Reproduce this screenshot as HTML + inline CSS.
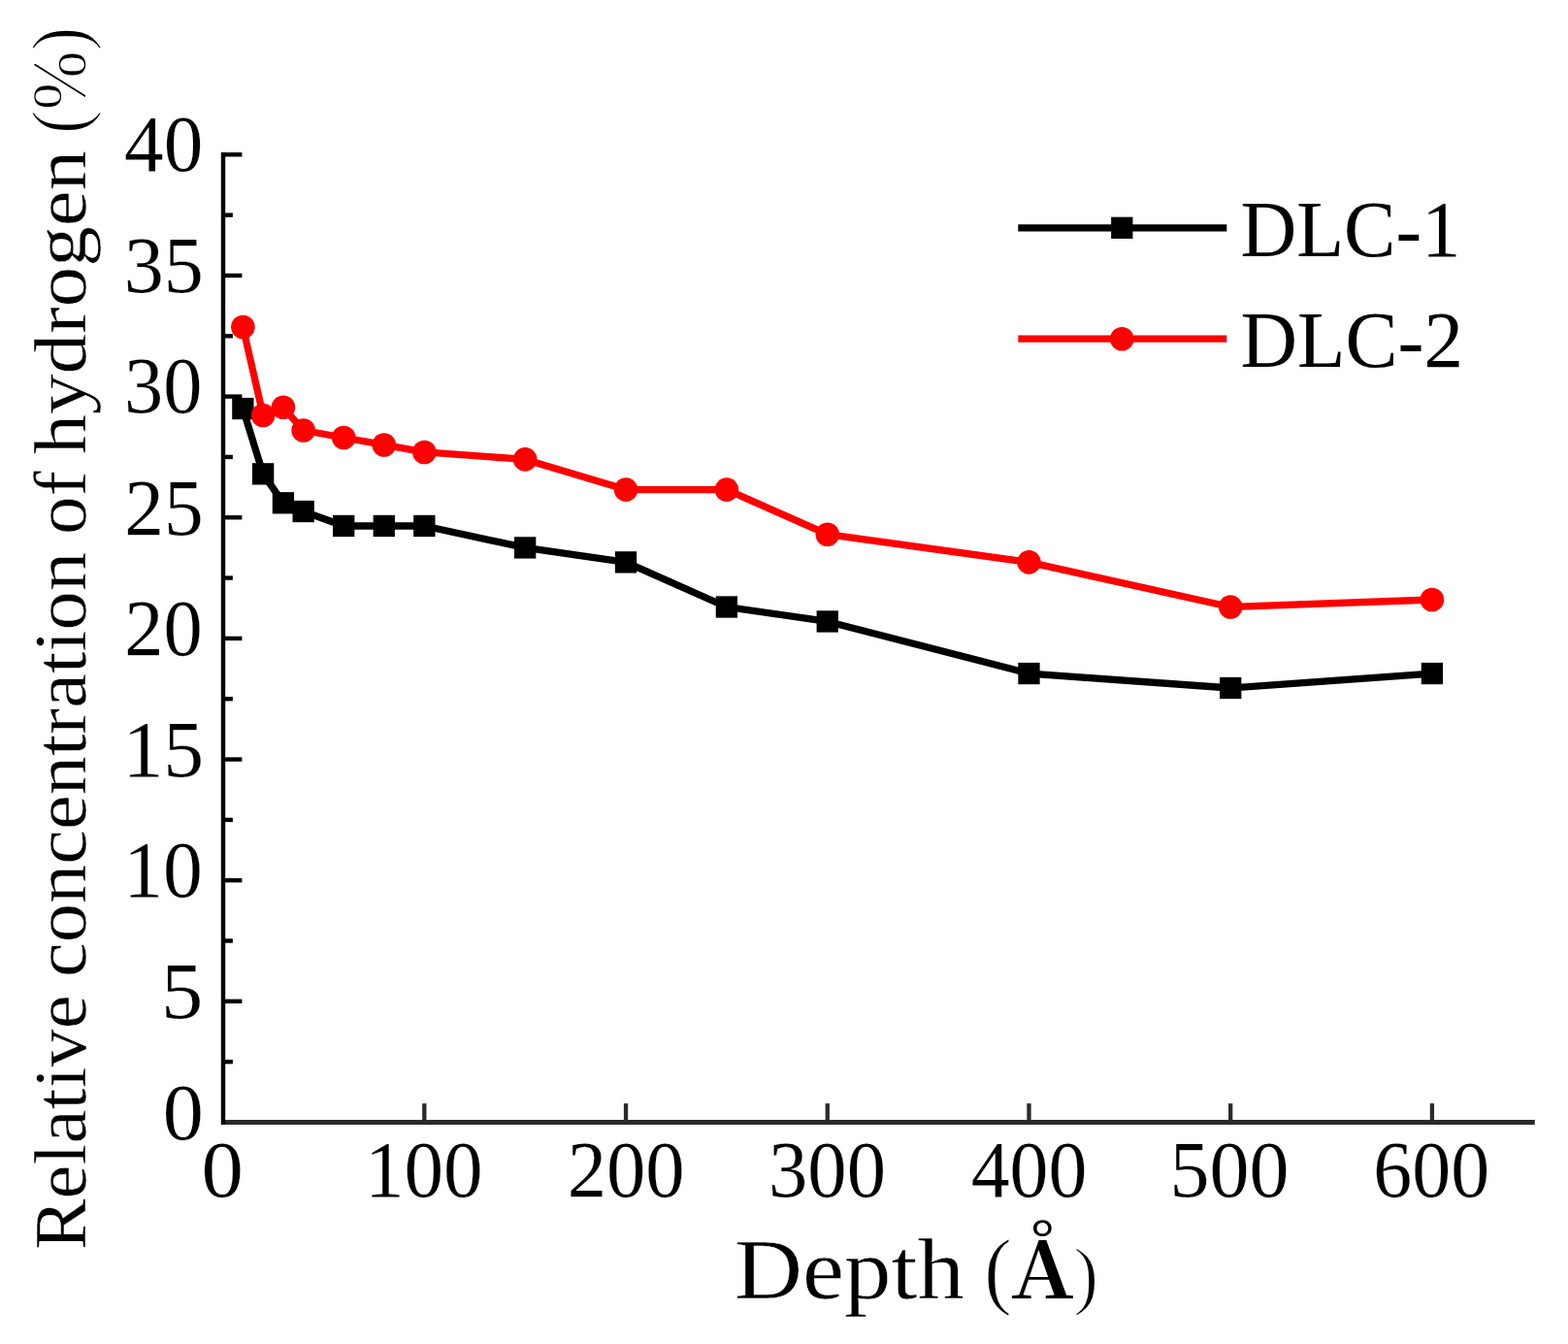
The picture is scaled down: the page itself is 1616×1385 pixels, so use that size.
<!DOCTYPE html>
<html lang="en"><head><meta charset="utf-8"><title>Relative concentration of hydrogen vs depth</title>
<style>
html,body{margin:0;padding:0;background:#fff;}
body{width:1616px;height:1385px;overflow:hidden;}
svg{display:block;}
text{font-family:"Liberation Serif",serif;fill:#000;}
</style></head><body>
<svg width="1616" height="1385" viewBox="0 0 1616 1385">
<rect width="1616" height="1385" fill="#fff"/>
<g stroke="#000" stroke-width="4.4" fill="none">
<line x1="230.00" y1="1156.50" x2="249.40" y2="1156.50"/>
<line x1="230.00" y1="1094.17" x2="239.90" y2="1094.17"/>
<line x1="230.00" y1="1031.85" x2="249.40" y2="1031.85"/>
<line x1="230.00" y1="969.52" x2="239.90" y2="969.52"/>
<line x1="230.00" y1="907.20" x2="249.40" y2="907.20"/>
<line x1="230.00" y1="844.88" x2="239.90" y2="844.88"/>
<line x1="230.00" y1="782.55" x2="249.40" y2="782.55"/>
<line x1="230.00" y1="720.23" x2="239.90" y2="720.23"/>
<line x1="230.00" y1="657.90" x2="249.40" y2="657.90"/>
<line x1="230.00" y1="595.58" x2="239.90" y2="595.58"/>
<line x1="230.00" y1="533.25" x2="249.40" y2="533.25"/>
<line x1="230.00" y1="470.92" x2="239.90" y2="470.92"/>
<line x1="230.00" y1="408.60" x2="249.40" y2="408.60"/>
<line x1="230.00" y1="346.27" x2="239.90" y2="346.27"/>
<line x1="230.00" y1="283.95" x2="249.40" y2="283.95"/>
<line x1="230.00" y1="221.62" x2="239.90" y2="221.62"/>
<line x1="230.00" y1="159.30" x2="249.40" y2="159.30"/>
<line x1="230.00" y1="156.90" x2="230.00" y2="1158.90"/>
</g>
<g stroke="#2a2a2a" stroke-width="4.8" fill="none">
<line x1="437.32" y1="1156.50" x2="437.32" y2="1137.10" stroke-width="4.3"/>
<line x1="645.04" y1="1156.50" x2="645.04" y2="1137.10" stroke-width="4.3"/>
<line x1="852.76" y1="1156.50" x2="852.76" y2="1137.10" stroke-width="4.3"/>
<line x1="1060.48" y1="1156.50" x2="1060.48" y2="1137.10" stroke-width="4.3"/>
<line x1="1268.20" y1="1156.50" x2="1268.20" y2="1137.10" stroke-width="4.3"/>
<line x1="1475.92" y1="1156.50" x2="1475.92" y2="1137.10" stroke-width="4.3"/>
<line x1="232.40" y1="1156.50" x2="1581.80" y2="1156.50"/>
</g>
<polyline points="250.37,421.07 271.14,488.38 291.92,518.29 312.69,527.02 354.23,541.98 395.78,541.98 437.32,541.98 541.18,564.41 645.04,579.37 748.90,625.49 852.76,640.45 1060.48,694.05 1268.20,709.01 1475.92,694.05" fill="none" stroke="#000" stroke-width="7.3" stroke-linejoin="round"/>
<rect x="239.22" y="409.92" width="22.3" height="22.3" fill="#000"/>
<rect x="259.99" y="477.23" width="22.3" height="22.3" fill="#000"/>
<rect x="280.77" y="507.14" width="22.3" height="22.3" fill="#000"/>
<rect x="301.54" y="515.87" width="22.3" height="22.3" fill="#000"/>
<rect x="343.08" y="530.83" width="22.3" height="22.3" fill="#000"/>
<rect x="384.63" y="530.83" width="22.3" height="22.3" fill="#000"/>
<rect x="426.17" y="530.83" width="22.3" height="22.3" fill="#000"/>
<rect x="530.03" y="553.26" width="22.3" height="22.3" fill="#000"/>
<rect x="633.89" y="568.22" width="22.3" height="22.3" fill="#000"/>
<rect x="737.75" y="614.34" width="22.3" height="22.3" fill="#000"/>
<rect x="841.61" y="629.30" width="22.3" height="22.3" fill="#000"/>
<rect x="1049.33" y="682.90" width="22.3" height="22.3" fill="#000"/>
<rect x="1257.05" y="697.86" width="22.3" height="22.3" fill="#000"/>
<rect x="1464.77" y="682.90" width="22.3" height="22.3" fill="#000"/>
<polyline points="250.37,337.05 271.14,428.05 291.92,419.82 312.69,443.50 354.23,450.98 395.78,458.46 437.32,465.94 541.18,473.42 645.04,504.58 748.90,504.58 852.76,550.70 1060.48,579.37 1268.20,625.49 1475.92,618.01" fill="none" stroke="#f00" stroke-width="7.3" stroke-linejoin="round"/>
<circle cx="250.37" cy="337.05" r="12.3" fill="#f00"/>
<circle cx="271.14" cy="428.05" r="12.3" fill="#f00"/>
<circle cx="291.92" cy="419.82" r="12.3" fill="#f00"/>
<circle cx="312.69" cy="443.50" r="12.3" fill="#f00"/>
<circle cx="354.23" cy="450.98" r="12.3" fill="#f00"/>
<circle cx="395.78" cy="458.46" r="12.3" fill="#f00"/>
<circle cx="437.32" cy="465.94" r="12.3" fill="#f00"/>
<circle cx="541.18" cy="473.42" r="12.3" fill="#f00"/>
<circle cx="645.04" cy="504.58" r="12.3" fill="#f00"/>
<circle cx="748.90" cy="504.58" r="12.3" fill="#f00"/>
<circle cx="852.76" cy="550.70" r="12.3" fill="#f00"/>
<circle cx="1060.48" cy="579.37" r="12.3" fill="#f00"/>
<circle cx="1268.20" cy="625.49" r="12.3" fill="#f00"/>
<circle cx="1475.92" cy="618.01" r="12.3" fill="#f00"/>
<line x1="1049.3" y1="234.80" x2="1264.3" y2="234.80" stroke="#000" stroke-width="7.3"/>
<rect x="1145.15" y="223.65" width="22.3" height="22.3" fill="#000"/>
<line x1="1049.3" y1="349.20" x2="1264.3" y2="349.20" stroke="#f00" stroke-width="7.3"/>
<circle cx="1156.30" cy="349.20" r="12.3" fill="#f00"/>
<text font-size="81.6" stroke="#fff" stroke-width="0.2" stroke-linejoin="round" y="1173.90" id="y0" x="167.70" textLength="42.03" lengthAdjust="spacingAndGlyphs">0</text>
<text font-size="81.6" stroke="#fff" stroke-width="0.2" stroke-linejoin="round" y="1049.25" id="y5" x="166.10" textLength="43.31" lengthAdjust="spacingAndGlyphs">5</text>
<text font-size="81.6" stroke="#fff" stroke-width="0.2" stroke-linejoin="round" y="924.20" id="y10" x="127.30" textLength="81.61" lengthAdjust="spacingAndGlyphs">10</text>
<text font-size="81.6" stroke="#fff" stroke-width="0.2" stroke-linejoin="round" y="799.95" id="y15" x="126.50" textLength="83.71" lengthAdjust="spacingAndGlyphs">15</text>
<text font-size="81.6" stroke="#fff" stroke-width="0.2" stroke-linejoin="round" y="675.30" id="y20" x="128.30" textLength="80.39" lengthAdjust="spacingAndGlyphs">20</text>
<text font-size="81.6" stroke="#fff" stroke-width="0.2" stroke-linejoin="round" y="550.65" id="y25" x="128.30" textLength="81.34" lengthAdjust="spacingAndGlyphs">25</text>
<text font-size="81.6" stroke="#fff" stroke-width="0.2" stroke-linejoin="round" y="424.60" id="y30" x="128.10" textLength="80.35" lengthAdjust="spacingAndGlyphs">30</text>
<text font-size="81.6" stroke="#fff" stroke-width="0.2" stroke-linejoin="round" y="301.35" id="y35" x="127.70" textLength="82.09" lengthAdjust="spacingAndGlyphs">35</text>
<text font-size="81.6" stroke="#fff" stroke-width="0.2" stroke-linejoin="round" y="175.50" id="y40" x="128.10" textLength="81.12" lengthAdjust="spacingAndGlyphs">40</text>
<text font-size="81.6" stroke="#fff" stroke-width="0.2" stroke-linejoin="round" y="1232.60" id="x0" x="207.60" textLength="43.35" lengthAdjust="spacingAndGlyphs">0</text>
<text font-size="81.6" stroke="#fff" stroke-width="0.2" stroke-linejoin="round" y="1232.60" id="x100" x="375.92" textLength="121.77" lengthAdjust="spacingAndGlyphs">100</text>
<text font-size="81.6" stroke="#fff" stroke-width="0.2" stroke-linejoin="round" y="1232.60" id="x200" x="584.64" textLength="121.06" lengthAdjust="spacingAndGlyphs">200</text>
<text font-size="81.6" stroke="#fff" stroke-width="0.2" stroke-linejoin="round" y="1232.60" id="x300" x="791.96" textLength="121.08" lengthAdjust="spacingAndGlyphs">300</text>
<text font-size="81.6" stroke="#fff" stroke-width="0.2" stroke-linejoin="round" y="1232.60" id="x400" x="1000.68" textLength="119.63" lengthAdjust="spacingAndGlyphs">400</text>
<text font-size="81.6" stroke="#fff" stroke-width="0.2" stroke-linejoin="round" y="1232.60" id="x500" x="1205.60" textLength="123.04" lengthAdjust="spacingAndGlyphs">500</text>
<text font-size="81.6" stroke="#fff" stroke-width="0.2" stroke-linejoin="round" y="1232.60" id="x600" x="1415.32" textLength="119.84" lengthAdjust="spacingAndGlyphs">600</text>
<text font-size="76.5" stroke="#fff" stroke-width="0.45" stroke-linejoin="round" transform="translate(88.10,0) rotate(-90)" y="0"><tspan id="w1" x="-1288.00" textLength="262.73" lengthAdjust="spacingAndGlyphs">Relative</tspan> <tspan id="w2" x="-1007.00" textLength="438.14" lengthAdjust="spacingAndGlyphs">concentration</tspan> <tspan id="w3" x="-551.00" textLength="65.64" lengthAdjust="spacingAndGlyphs">of</tspan> <tspan id="w4" x="-468.60" textLength="313.64" lengthAdjust="spacingAndGlyphs">hydrogen</tspan> <tspan id="w5" x="-138.00" textLength="110.18" lengthAdjust="spacingAndGlyphs" font-size="80" stroke="#fff" stroke-width="1.6">(%)</tspan></text>
<text font-size="88.5" stroke="#fff" stroke-width="0.45" stroke-linejoin="round" y="1338.40"><tspan id="xt1" x="757.00" textLength="237.08" lengthAdjust="spacingAndGlyphs">Depth</tspan> <tspan id="xt2" x="1014.00" textLength="29.03" lengthAdjust="spacingAndGlyphs" stroke="#fff" stroke-width="1.5">(</tspan><tspan id="xt3" x="1041.80" textLength="65.16" lengthAdjust="spacingAndGlyphs" font-family="'Noto Serif CJK SC','Liberation Serif',serif" font-weight="bold" font-size="81" stroke="none">Å</tspan><tspan id="xt4" x="1106.20" textLength="25.98" lengthAdjust="spacingAndGlyphs" font-size="78" y="1340.00" stroke="#fff" stroke-width="1.5">)</tspan></text>
<text font-size="82.3" y="264.30" id="l1" x="1278.40" textLength="226.79" lengthAdjust="spacingAndGlyphs">DLC-1</text>
<text font-size="82.3" y="378.20" id="l2" x="1278.40" textLength="229.62" lengthAdjust="spacingAndGlyphs">DLC-2</text>
</svg>
</body></html>
